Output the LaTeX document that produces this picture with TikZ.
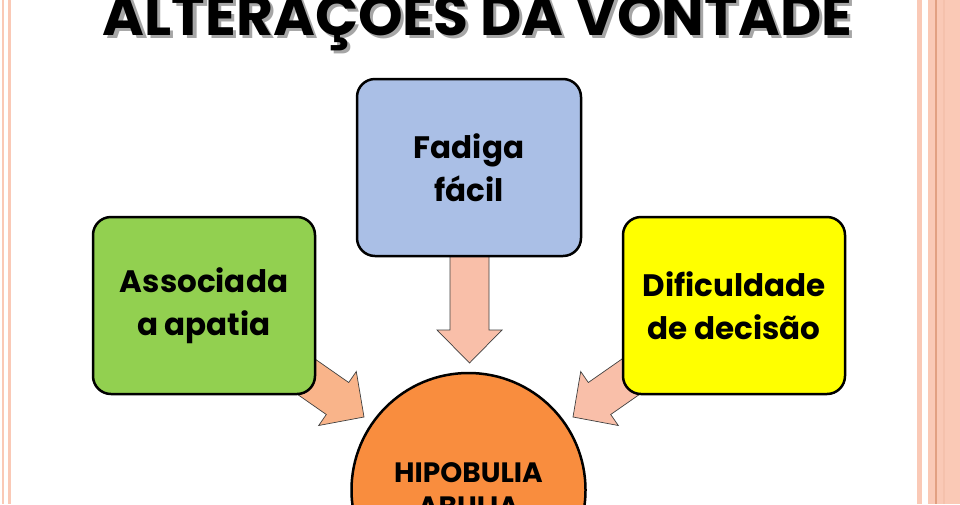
\documentclass[tikz,border=0pt]{standalone}
\usepackage{fontspec}
\setmainfont{Poppins}
\usetikzlibrary{calc}
\definecolor{boxgreen}{HTML}{92D050}
\definecolor{boxblue}{HTML}{AABFE6}
\definecolor{boxyellow}{HTML}{FFFF00}
\definecolor{circorange}{HTML}{F98D3E}
\definecolor{arrowpink}{HTML}{F9BFA9}
\definecolor{arroworange}{HTML}{F9B48A}
\definecolor{edgepink}{HTML}{FAC9B6}
\definecolor{edgedark}{HTML}{E2A082}
\newcommand{\titletext}{ALTERAÇOES DA VONTADE}
\tikzset{
  topicbox/.style={draw=black, line width=2.5pt, rounded corners=18pt, minimum width=222pt,
    minimum height=177pt, inner sep=0pt, align=center, font=\bfseries\fontsize{31}{43}\selectfont},
  hubcircle/.style={circle, draw=black, line width=2.5pt, fill=circorange, minimum size=234pt,
    inner sep=0pt, align=center, font=\bfseries\fontsize{28}{34}\selectfont},
  blockarrow/.style={draw=black!75, line width=0.7pt, line join=miter}
}
\begin{document}
\begin{tikzpicture}[x=1pt,y=-1pt]
\useasboundingbox (0,0) rectangle (960,504);
\fill[white] (0,0) rectangle (960,504);
% page frame
\fill[edgepink] (1.5,0) rectangle (3.5,504);
\fill[edgepink] (7.5,0) rectangle (11,504);
\fill[edgepink] (917,0) rectangle (922,504);
\fill[edgepink] (928,0) rectangle (960,504);
\fill[edgedark] (935,0) rectangle (936.5,504);
\fill[edgepink!80!edgedark] (943,0) rectangle (945,504);
% title with soft shadow (one node)
\node[anchor=base, inner sep=0pt, font=\bfseries\fontsize{46}{46}\selectfont] (title) at (477.5,35)
  {\resizebox{749pt}{!}{\makebox[0pt][l]{\raisebox{-2.5pt}{\hspace{2.5pt}\color{black!35}\titletext}}\titletext}};
% arrows (behind the boxes)
\coordinate (tipL) at (364,417);
\coordinate (tipM) at (469.5,363);
\coordinate (tipR) at (573,417);
\filldraw[blockarrow, fill=arroworange] (274.9,331) -- (348.7,382.5) -- (356.3,371.5) -- (tipL)
  -- (318.7,425.5) -- (326.3,414.5) -- (252.5,363) -- cycle;
\filldraw[blockarrow, fill=arrowpink] (662.1,331) -- (588.3,382.5) -- (580.7,371.5) -- (tipR)
  -- (618.3,425.5) -- (610.7,414.5) -- (684.5,363) -- cycle;
\filldraw[blockarrow, fill=arrowpink] (450,240) -- (450,330) -- (437,330) -- (tipM)
  -- (502,330) -- (489,330) -- (489,240) -- cycle;
% boxes
\node[topicbox, fill=boxgreen] (apatia) at (204,305.5) {Associada\\a apatia};
\node[topicbox, fill=boxblue, minimum width=224pt] (fadiga) at (469,167.5) {Fadiga\\fácil};
\node[topicbox, fill=boxyellow] (decisao) at (734,305.5) {Dificuldade\\de decisão};
% hub
\node[hubcircle] (hub) at (468.5,490) {HIPOBULIA\\ABULIA};
\end{tikzpicture}
\end{document}
